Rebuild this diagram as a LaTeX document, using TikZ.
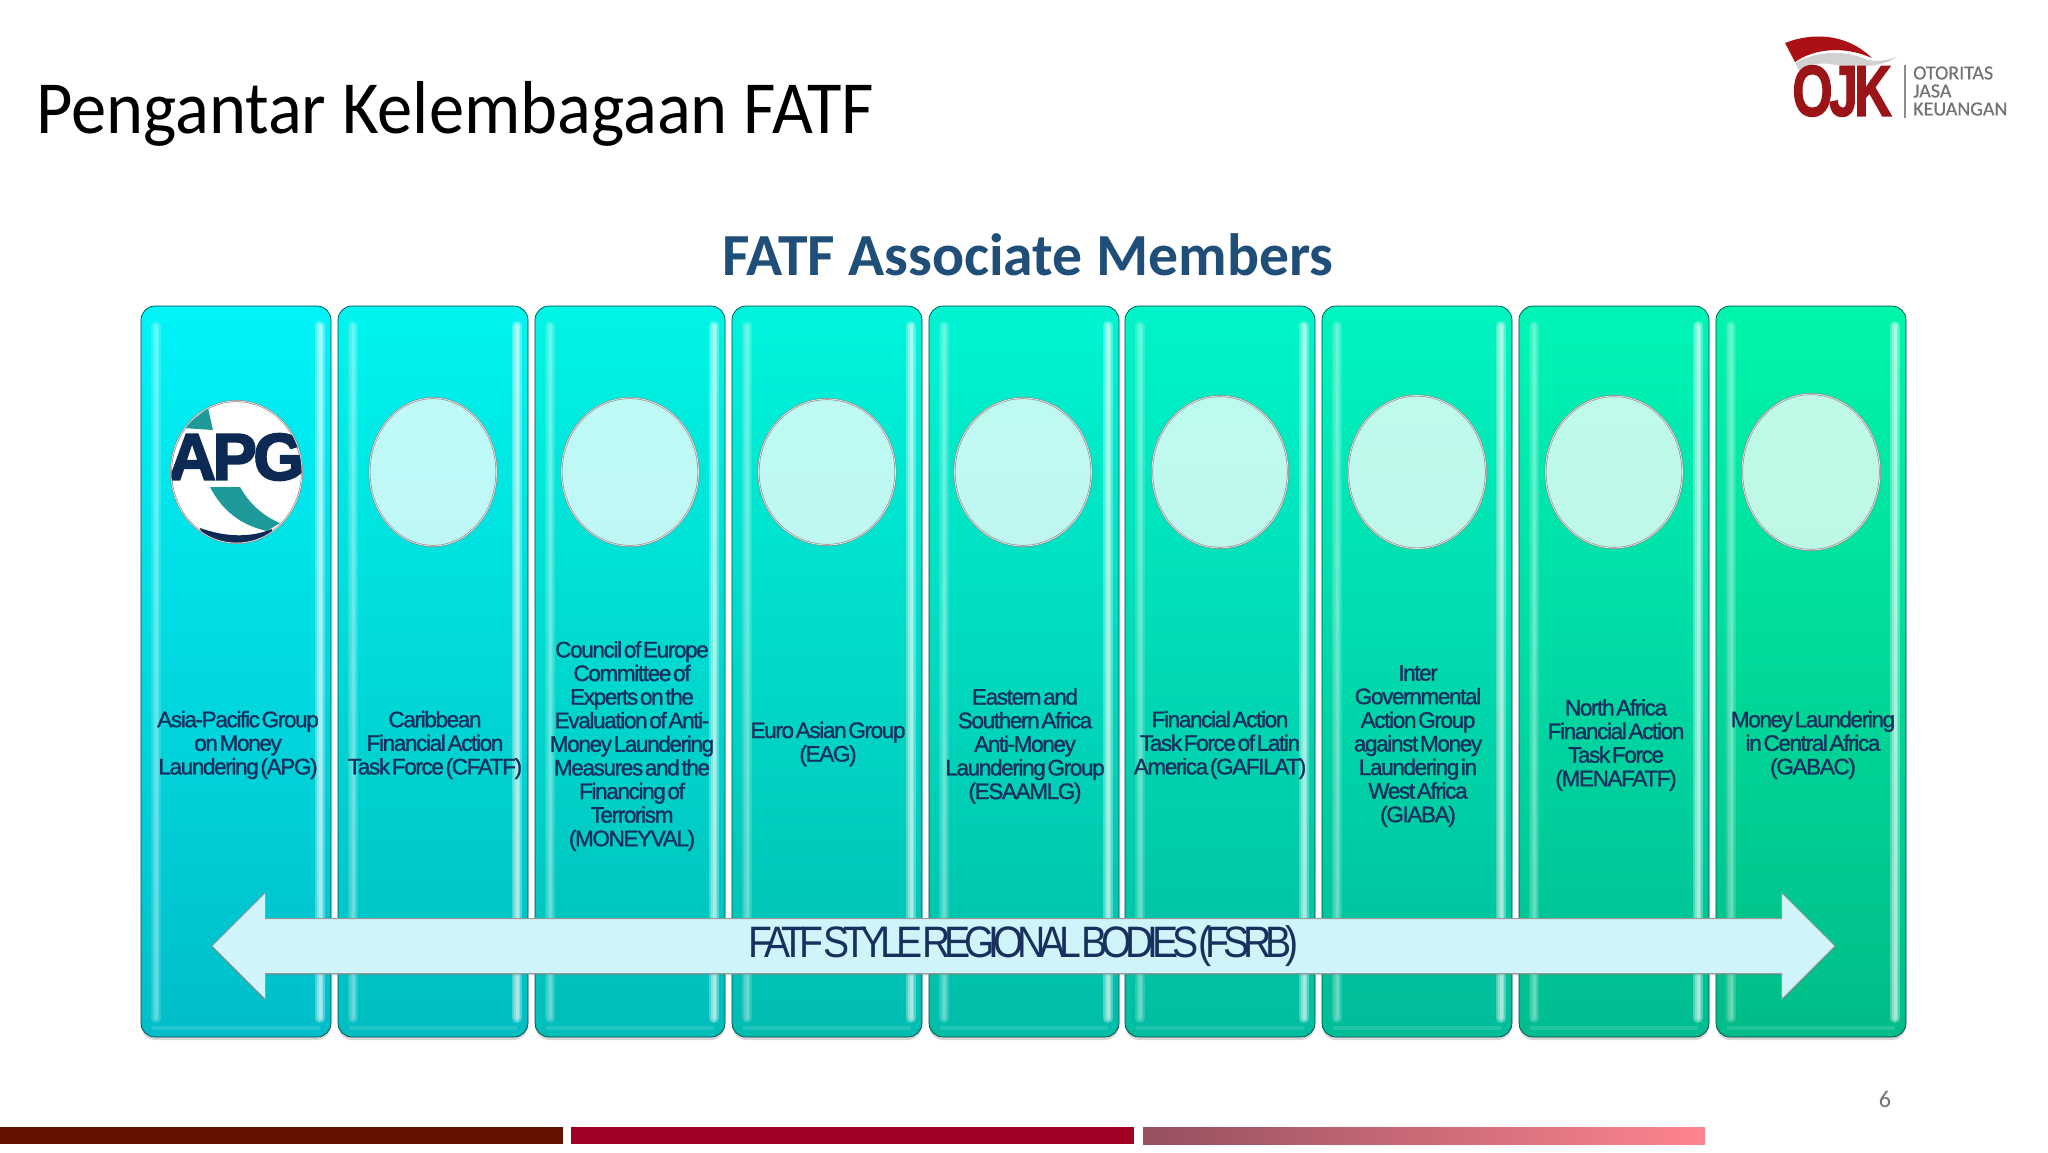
\documentclass[tikz,border=0pt]{standalone}
\usepackage{fontspec}
\usetikzlibrary{shapes.geometric,shapes.arrows,shadows}
\setmainfont{Liberation Sans}
\newfontfamily\titlefont{Carlito}
\newfontfamily\panelfont[LetterSpace=-6,WordSpace=0.35,FakeBold=1.2]{Liberation Sans}
\newfontfamily\bandfont[LetterSpace=-16,WordSpace=0.1]{Liberation Sans}
\newfontfamily\apgfont[LetterSpace=-5,BoldFeatures={FakeBold=3}]{Liberation Sans}
\newfontfamily\ojkfont[LetterSpace=-7,BoldFeatures={FakeBold=2}]{Liberation Sans}
\newfontfamily\logofont[FakeBold=0.5]{Carlito}
\definecolor{navytext}{HTML}{17305E}
\definecolor{headblue}{HTML}{1F4E79}
\definecolor{topA}{HTML}{00F4F8}
\definecolor{topB}{HTML}{00F5AC}
\definecolor{botA}{HTML}{00BDC8}
\definecolor{botB}{HTML}{00BC88}
\definecolor{apgteal}{HTML}{1F9A9A}
\definecolor{apgnavy}{HTML}{0D2A55}
\definecolor{ojkred}{HTML}{9A1418}
\definecolor{bandfill}{HTML}{CFF5FA}
\tikzset{
  panelbox/.style={draw=black!45!teal,line width=0.7pt,rounded corners=14pt,minimum width=190pt,minimum height=731pt,inner sep=0pt,
    drop shadow={shadow xshift=0pt,shadow yshift=-3pt,opacity=.3}},
  stripe/.style={white,opacity=.16,line cap=round},
  disc/.style={ellipse,draw=black!50,double=white!75!gray,double distance=.9pt,line width=.5pt,inner sep=0pt},
  panellabel/.style={inner sep=0pt,align=center,text=navytext,font=\panelfont\fontsize{22.5}{23.6}\selectfont},
  logotext/.style={inner sep=0pt,anchor=west,text=black!55,font=\logofont\fontsize{20}{20}\selectfont}
}
\begin{document}
\begin{tikzpicture}[x=1pt,y=-1pt]
    \useasboundingbox (0,0) rectangle (2048,1152);
    \fill [white] (0,0) rectangle (2048,1152);
    \node [anchor=base west,inner sep=0pt,xscale=.94,font=\titlefont\fontsize{75}{75}\selectfont] (title) at (36,133) {Pengantar Kelembagaan FATF};
    \node [inner sep=0pt,text=headblue,font=\titlefont\bfseries\fontsize{59.7}{60}\selectfont] (heading) at (1028,255) {FATF Associate Members};
    % logo
    \fill [ojkred!85!red] (1785,43) .. controls (1810,33) and (1845,32) .. (1872,58) .. controls (1845,46) and (1815,48) .. (1795,62) -- cycle;
    \fill [black!18] (1795,63) .. controls (1820,50) and (1845,50) .. (1868,60) .. controls (1880,62) and (1890,60) .. (1897,56) .. controls (1885,68) and (1850,68) .. (1830,64) .. controls (1815,62) and (1805,66) .. (1800,72) -- cycle;
    \node [inner sep=0pt,text=ojkred,xscale=.72,font=\ojkfont\bfseries\fontsize{72}{72}\selectfont] (ojk) at (1842,91) {OJK};
    \draw [black!45,line width=1.2pt] (1905,65) -- (1905,118);
    \node [logotext] (otoritas) at (1913,73) {OTORITAS};
    \node [logotext] (jasa) at (1913,91) {JASA};
    \node [logotext] (keuangan) at (1913,109) {KEUANGAN};
    % panels
    \foreach \i/\cx in {0/236,1/433,2/630,3/827,4/1024,5/1220,6/1417,7/1614,8/1811} {
        \pgfmathsetmacro{\pct}{\i*12.5}
        \colorlet{paneltop}{topB!\pct!topA}
        \colorlet{panelbot}{botB!\pct!botA}
        \node [panelbox,top color=paneltop,bottom color=panelbot] (panel\i) at (\cx,671.5) {};
        \foreach \w in {10,6,3} {
            \draw [stripe,line width=\w pt] (\cx-80,326) -- (\cx-80,1018);
            \draw [stripe,opacity=.3,line width=\w pt] (\cx+84,326) -- (\cx+84,1018);
        }
        \fill [white,opacity=.12] (\cx-84,1026) rectangle (\cx+84,1030);
    }
    % discs
    \foreach \i/\cx/\rx/\ry in {1/433/63.5/74,2/630/68.5/74,3/827/68.5/73,4/1023/68.5/74,5/1220/68/76,6/1417/69/76.5,7/1614/68.5/76,8/1811/69/78} {
        \node [disc,fill=white,fill opacity=.75,minimum width=2*\rx,minimum height=2*\ry] (disc\i) at (\cx,472) {};
    }
    \node [disc,fill=white,minimum width=131pt,minimum height=142pt] (disc0) at (236.5,472) {};
    \begin{scope}
        \clip (236.5,472) ellipse (65pt and 70.5pt);
        \fill [apgteal] (183,428) -- (208,408) -- (213,430) -- cycle;
        \fill [apgteal] (210,487) -- (240,487) .. controls (250,505) and (265,517) .. (280,523) -- (267,531) .. controls (240,525) and (222,510) .. (210,487) -- cycle;
        \fill [apgnavy] (200,528) .. controls (225,537) and (250,538) .. (272,529) -- (270,545) -- (205,545) -- cycle;
        \node [inner sep=0pt,text=apgnavy,font=\apgfont\bfseries\fontsize{66}{66}\selectfont] (apg) at (236.5,457) {APG};
    \end{scope}
    % labels
    \node [panellabel] (labelA) at (238,745) {Asia-Pacific Group\\on Money\\Laundering (APG)};
    \node [panellabel] (labelB) at (435,745) {Caribbean\\Financial Action\\Task Force (CFATF)};
    \node [panellabel] (labelC) at (632,746) {Council of Europe\\Committee of\\Experts on the\\Evaluation of Anti-\\Money Laundering\\Measures and the\\Financing of\\Terrorism\\(MONEYVAL)};
    \node [panellabel] (labelD) at (828,744) {Euro Asian Group\\(EAG)};
    \node [panellabel] (labelE) at (1025,746) {Eastern and\\Southern Africa\\Anti-Money\\Laundering Group\\(ESAAMLG)};
    \node [panellabel] (labelF) at (1220,745) {Financial Action\\Task Force of Latin\\America (GAFILAT)};
    \node [panellabel] (labelG) at (1418,746) {Inter\\Governmental\\Action Group\\against Money\\Laundering in\\West Africa\\(GIABA)};
    \node [panellabel] (labelH) at (1616,745) {North Africa\\Financial Action\\Task Force\\(MENAFATF)};
    \node [panellabel] (labelI) at (1813,745) {Money Laundering\\in Central Africa\\(GABAC)};
    % band
    \node [double arrow,double arrow head extend=26pt,double arrow tip angle=90,minimum height=1623pt,inner xsep=4pt,inner ysep=27pt,
        fill=bandfill,draw=black!40,line width=.8pt,
        drop shadow={shadow xshift=0pt,shadow yshift=-2pt,opacity=.35}] (band) at (1023.5,946) {};
    \node [inner sep=0pt,text=navytext,xscale=.89,font=\bandfont\fontsize{44}{44}\selectfont] (bandlabel) at (band.center) {FATF STYLE REGIONAL BODIES (FSRB)};
    % footer
    \node [inner sep=0pt,text=black!55,font=\titlefont\fontsize{24}{24}\selectfont] (pagenum) at (1885,1099) {6};
    \fill [fill={rgb,255:red,100;green,18;blue,0}] (0,1127) rectangle (563,1144);
    \fill [fill={rgb,255:red,160;green,0;blue,35}] (571,1127) rectangle (1134,1144);
    \shade [left color={rgb,255:red,150;green,80;blue,95},right color={rgb,255:red,255;green,132;blue,144}] (1143,1127) rectangle (1705,1144);
    \end{tikzpicture}
\end{document}
